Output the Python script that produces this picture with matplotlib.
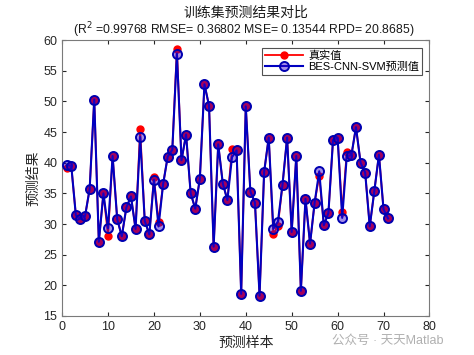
import matplotlib
matplotlib.use("Agg")
import matplotlib.pyplot as plt
import numpy as np

plt.rcParams['font.family'] = ['Liberation Sans', 'Noto Sans CJK SC', 'DejaVu Sans']

# training set: true values vs BES-CNN-SVM predictions
true_vals = [39.1, 39.5, 31.4, 30.8, 31.3, 35.7, 50.3, 27.1, 35.0, 28.1,
             41.1, 30.8, 28.0, 32.7, 34.5, 29.2, 45.5, 30.5, 28.3, 37.6,
             30.4, 36.5, 41.0, 42.1, 58.6, 40.4, 44.6, 35.0, 32.5, 37.4,
             52.8, 49.3, 26.3, 43.0, 36.6, 33.9, 42.2, 42.0, 18.6, 49.2,
             35.3, 33.5, 18.3, 38.5, 44.1, 28.3, 29.7, 36.4, 44.1, 28.7,
             41.1, 19.1, 34.1, 26.8, 33.5, 37.9, 29.8, 31.8, 43.7, 44.1,
             32.0, 41.8, 41.2, 45.8, 40.0, 38.4, 29.6, 35.4, 41.3, 32.4,
             30.9]
pred_vals = [39.6, 39.5, 31.4, 30.8, 31.3, 35.7, 50.3, 27.1, 35.0, 29.3,
             41.1, 30.8, 28.0, 32.7, 34.5, 29.2, 44.2, 30.5, 28.3, 37.2,
             29.6, 36.5, 41.0, 42.1, 57.8, 40.4, 44.6, 35.0, 32.5, 37.4,
             52.8, 49.3, 26.3, 43.0, 36.6, 33.9, 40.9, 42.0, 18.6, 49.2,
             35.3, 33.5, 18.3, 38.5, 44.1, 29.2, 30.4, 36.4, 44.1, 28.7,
             41.1, 19.1, 34.1, 26.8, 33.5, 38.6, 29.8, 31.8, 43.7, 44.1,
             31.0, 41.1, 41.2, 45.8, 40.0, 38.4, 29.6, 35.4, 41.3, 32.4,
             30.9]
samples = np.arange(1, len(true_vals) + 1)

fig = plt.figure(figsize=(4.74, 3.55), dpi=100)
ax = fig.add_axes([0.131, 0.11, 0.775, 0.777])

ax.plot(samples, true_vals, '-o', color='red', linewidth=1.3, markersize=5,
        markerfacecolor='red', markeredgecolor='red', label='真实值', zorder=2)
ax.plot(samples, pred_vals, '-o', color='#0000c0', linewidth=1.5, markersize=6.5,
        markerfacecolor=(0.2, 0.0, 0.8, 0.45), markeredgecolor='#0000b0',
        markeredgewidth=1.4, label='BES-CNN-SVM预测值', zorder=3)

ax.set_xlim(0, 80)
ax.set_ylim(15, 60)
ax.set_xticks(range(0, 81, 10))
ax.set_yticks(range(15, 61, 5))
ax.tick_params(direction='in', length=3, labelsize=9, colors='#262626',
               top=True, right=True)
for sp in ax.spines.values():
    sp.set_color('#7a7a7a')
    sp.set_linewidth(0.8)

ax.set_xlabel('预测样本', fontsize=10, color='#262626', labelpad=2)
ax.set_ylabel('预测结果', fontsize=10, color='#262626', labelpad=2)

# two-line title, placed by hand so it stays inside the figure
fig.text(0.518, 0.965, '训练集预测结果对比', fontsize=10, color='#1a1a1a',
         ha='center', va='center')
fig.text(0.515, 0.915, '(R$^2$ =0.99768 RMSE= 0.36802 MSE= 0.13544 RPD= 20.8685)',
         fontsize=8.8, color='#1a1a1a', ha='center', va='center')

leg = ax.legend(loc='upper right', fontsize=8, frameon=True, fancybox=False,
                edgecolor='#262626', borderpad=0.25, handlelength=3.5,
                labelspacing=0.1, handletextpad=0.4, borderaxespad=0.7)
leg.get_frame().set_linewidth(0.8)

fig.text(0.70, 0.03, '公众号 · 天天Matlab', fontsize=9, color='#b0b0b0')

fig.savefig('out.png', dpi=100)
